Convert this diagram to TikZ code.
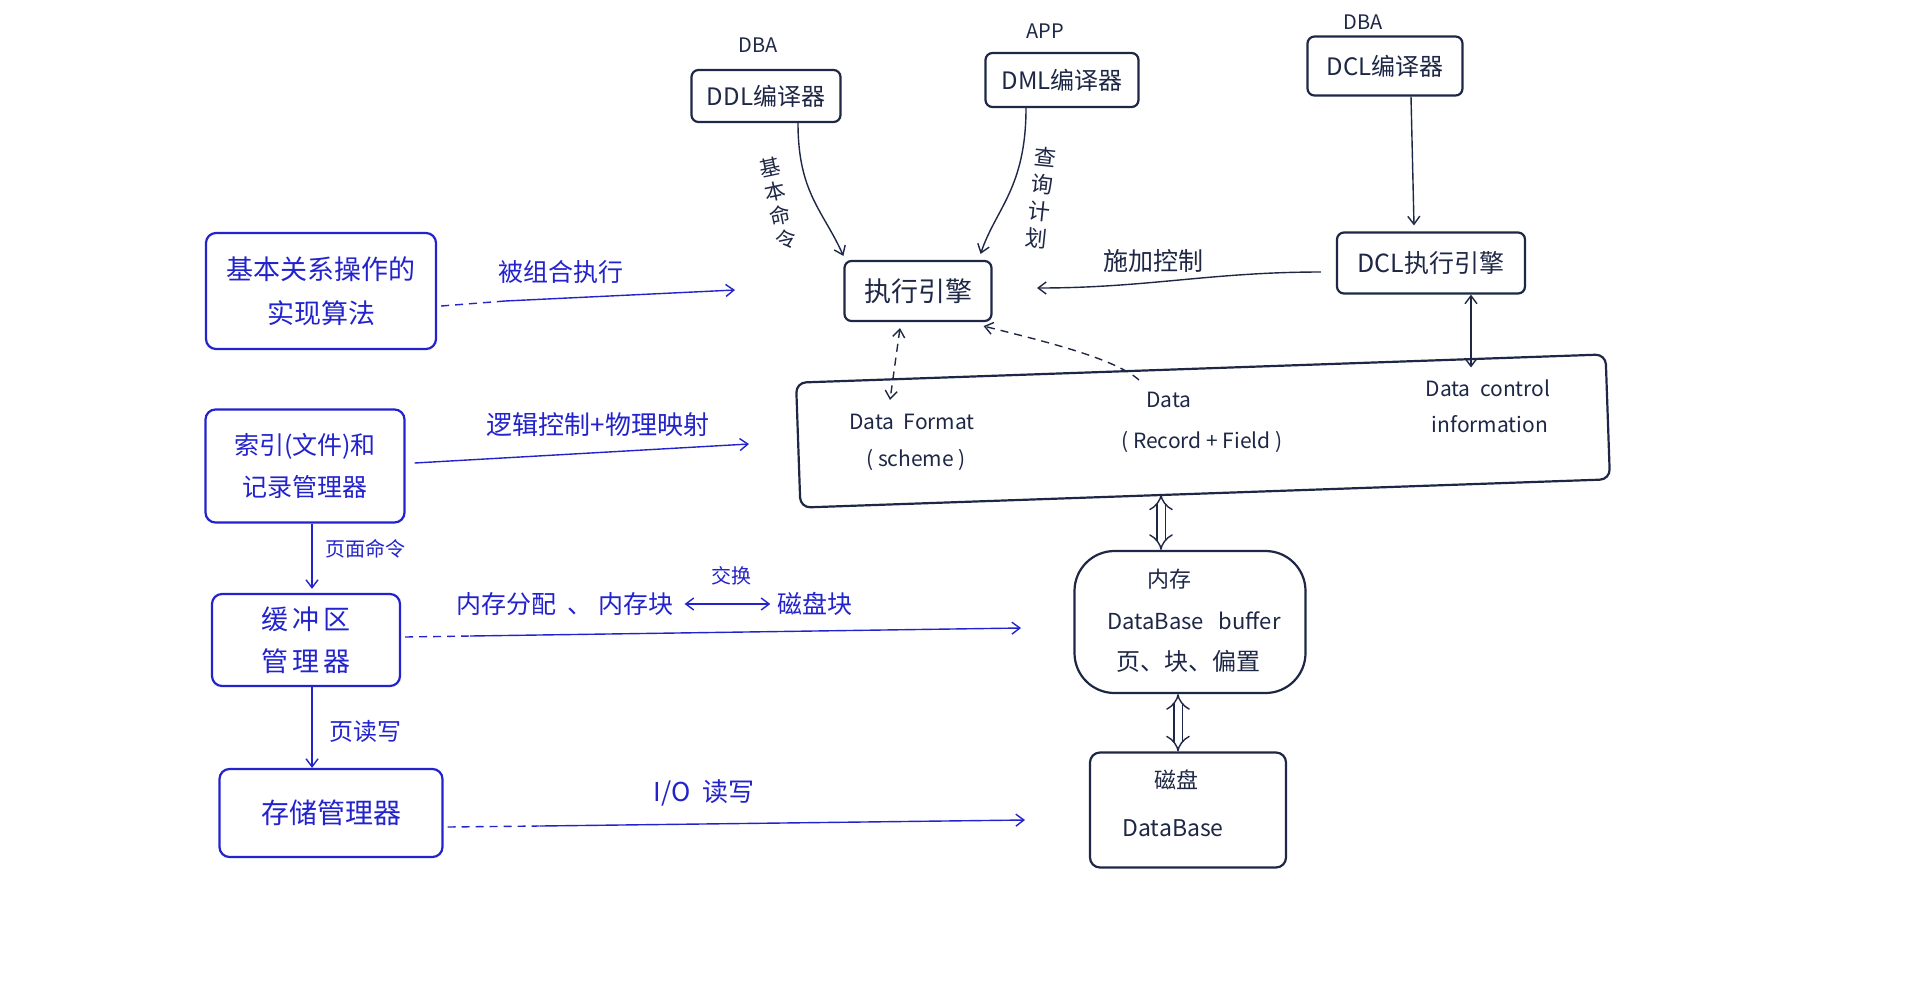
\documentclass[tikz,border=0pt]{standalone}
\usepackage{fontspec}
\setmainfont{Noto Sans CJK SC}
\usetikzlibrary{arrows.meta}
\definecolor{navy}{RGB}{30,40,70}
\definecolor{pen}{RGB}{35,35,205}
\newcommand\fz[2]{\fontsize{#1}{#2}\selectfont}
\begin{document}
\begin{tikzpicture}[x=1pt,y=-1pt,
  nbox/.style={draw=navy, line width=2.2pt, rounded corners=7pt, text=navy, inner sep=0pt, align=center},
  bbox/.style={draw=pen, line width=2.2pt, rounded corners=10pt, text=pen, inner sep=0pt, align=center},
  ntxt/.style={text=navy, inner sep=1pt, align=center},
  btxt/.style={text=pen, inner sep=1pt, align=center},
  tip/.tip={Straight Barb[length=8pt,width=12pt]},
  nline/.style={draw=navy, line width=1.4pt},
  bline/.style={draw=pen, line width=1.4pt},
  narr/.style={nline, -tip},
  barr/.style={bline, -tip},
  dsh/.style={dash pattern=on 8pt off 6pt},
  dbl/.style={draw=navy, line width=1.4pt, double distance=7pt, {Implies}-{Implies}}
]
\useasboundingbox (0,0) rectangle (1920,997);
\fill[white] (0,0) rectangle (1920,997);

% ---------- top compilers ----------
\node[ntxt, font=\fz{20}{24}] (dba1) at (758,45) {DBA};
\node[nbox, minimum width=149pt, minimum height=52pt, font=\fz{24}{30}] (ddl) at (766,96) {DDL编译器};
\node[ntxt, font=\fz{20}{24}] (app) at (1045,31) {APP};
\node[nbox, minimum width=153pt, minimum height=54pt, font=\fz{24}{30}] (dml) at (1062,80) {DML编译器};
\node[ntxt, font=\fz{20}{24}] (dba2) at (1363,22) {DBA};
\node[nbox, minimum width=155pt, minimum height=59pt, font=\fz{24}{30}] (dcl) at (1385,66) {DCL编译器};

% ---------- engines ----------
\node[nbox, minimum width=147pt, minimum height=60pt, font=\fz{27}{32}] (ex) at (918,291) {执行引擎};
\node[nbox, minimum width=188pt, minimum height=61pt, font=\fz{25}{30}] (dx) at (1431,263) {DCL执行引擎};
\node[ntxt, font=\fz{25}{30}] (lctrl) at (1153,261) {施加控制};

\node[ntxt, font=\fz{21}{24.5}, rotate=12] (lbasic) at (778,204) {基\\本\\命\\令};
\node[ntxt, font=\fz{22}{27}, rotate=-6] (lquery) at (1041,198) {查\\询\\计\\划};

% ---------- big data box ----------
\node[nbox, minimum width=810pt, minimum height=125pt, rounded corners=10pt, rotate=2] (big) at (1203,431) {};
\node[ntxt, font=\fz{21}{26}] (df) at (912,422) {Data\ \ Format};
\node[ntxt, font=\fz{21}{26}] (sc) at (916,460) {( scheme )};
\node[ntxt, font=\fz{21}{26}] (dat) at (1169,400) {Data};
\node[ntxt, font=\fz{21}{26}] (rf) at (1202,442) {( Record + Field )};
\node[ntxt, font=\fz{21}{26}] (dci) at (1488,388) {Data\ \ control};
\node[ntxt, font=\fz{21}{26}] (inf) at (1490,424) {information};

% ---------- memory and disk ----------
\node[nbox, minimum width=231pt, minimum height=142pt, rounded corners=40pt] (mem) at (1190,622) {};
\node[ntxt, font=\fz{22}{26}] (memt) at (1169,579) {内存};
\node[ntxt, font=\fz{22}{26}] (dbb) at (1194,621) {DataBase\ \ \ buffer};
\node[ntxt, font=\fz{24}{28}] (pbo) at (1188,661) {页、块、偏置};

\node[nbox, minimum width=196pt, minimum height=115pt, rounded corners=10pt] (disk) at (1188,810) {};
\node[ntxt, font=\fz{22}{26}] (diskt) at (1176,780) {磁盘};
\node[ntxt, font=\fz{23}{28}] (dbt) at (1173,828) {DataBase};

% ---------- left column ----------
\node[bbox, minimum width=230pt, minimum height=116pt, font=\fz{27}{44}] (alg) at (321,291) {基本关系操作的\\实现算法};
\node[bbox, minimum width=199pt, minimum height=113pt, font=\fz{25}{42}] (idx) at (305,466) {索引(文件)和\\记录管理器};
\node[bbox, minimum width=188pt, minimum height=92pt, font=\fz{27}{42}] (buf) at (306,640) {缓\,冲\,区\\管\,理\,器};
\node[bbox, minimum width=223pt, minimum height=88pt, font=\fz{28}{34}] (sto) at (331,813) {存储管理器};

\node[btxt, font=\fz{25}{30}] (lcomb) at (561,272) {被组合执行};
\node[btxt, font=\fz{26}{30}] (llogic) at (598,425) {逻辑控制+物理映射};
\node[btxt, font=\fz{20}{24}] (lpcmd) at (365,549) {页面命令};
\node[btxt, font=\fz{24}{28}] (lprw) at (365,731) {页读写};
\node[btxt, font=\fz{25}{30}] (m1) at (565,604) {内存分配\ \ 、\ 内存块};
\node[btxt, font=\fz{25}{30}] (m2) at (815,604) {磁盘块};
\node[btxt, font=\fz{20}{24}] (lswap) at (731,576) {交换};
\node[btxt, font=\fz{26}{30}] (lio) at (704,793) {I/O\ \ 读写};

% ---------- free ends ----------
\coordinate (ctrlEnd) at (1037,288);
\coordinate (a1) at (505,301);
\coordinate (a1e) at (735,290);
\coordinate (a2e) at (749,444);
\coordinate (a3) at (470,636);
\coordinate (a3e) at (1021,628);
\coordinate (a4) at (540,826);
\coordinate (a4e) at (1025,820);

% ---------- navy connectors ----------
\draw[narr] ([xshift=32pt]ddl.south) .. controls +(0,70) and +(-20,-45) .. ([yshift=4pt]ex.north west);
\draw[narr] ([xshift=-36pt]dml.south) .. controls +(0,80) and +(15,-45) .. ([xshift=-12pt,yshift=6pt]ex.north east);
\draw[narr] ([xshift=26pt]dcl.south) -- ([xshift=-17pt,yshift=6pt]dx.north);
\draw[narr] ([xshift=-15pt,yshift=-9pt]dx.west) .. controls +(-110,0) and +(110,0) .. (ctrlEnd);
\draw[nline, dsh, tip-tip] ([xshift=-18pt,yshift=-6pt]ex.south) -- ([xshift=-22pt,yshift=13pt]df.north);
\draw[narr, dsh] ([xshift=-30pt,yshift=11pt]dat.north) .. controls +(-25,-22) and +(60,15) .. ([xshift=-9pt,yshift=-4pt]ex.south east);
\draw[nline, tip-tip] ([xshift=40pt]dx.south) -- ([xshift=40pt]dx.south |- big.north);
\draw[dbl] ([xshift=-29pt]mem.north) -- ([xshift=-29pt]mem.north |- big.south);
\draw[dbl] ([xshift=-12pt]mem.south) -- ([xshift=-12pt]mem.south |- disk.north);

% ---------- blue connectors ----------
\draw[bline, dsh] ([xshift=4pt,yshift=-15pt]alg.east) -- (a1);
\draw[barr] (a1) -- (a1e);
\draw[barr] ([xshift=9pt,yshift=3pt]idx.east) -- (a2e);
\draw[barr] ([xshift=7pt]idx.south) -- ([xshift=6pt,yshift=4pt]buf.north);
\draw[bline, dsh] ([xshift=4pt,yshift=3pt]buf.east) -- (a3);
\draw[barr] (a3) -- (a3e);
\draw[bline, tip-tip] ([xshift=10pt]m1.east) -- ([xshift=-6pt]m2.west);
\draw[barr] ([xshift=6pt]buf.south) -- ([xshift=-19pt]sto.north);
\draw[bline, dsh] ([xshift=4pt,yshift=-14pt]sto.east) -- (a4);
\draw[barr] (a4) -- (a4e);
\end{tikzpicture}
\end{document}
